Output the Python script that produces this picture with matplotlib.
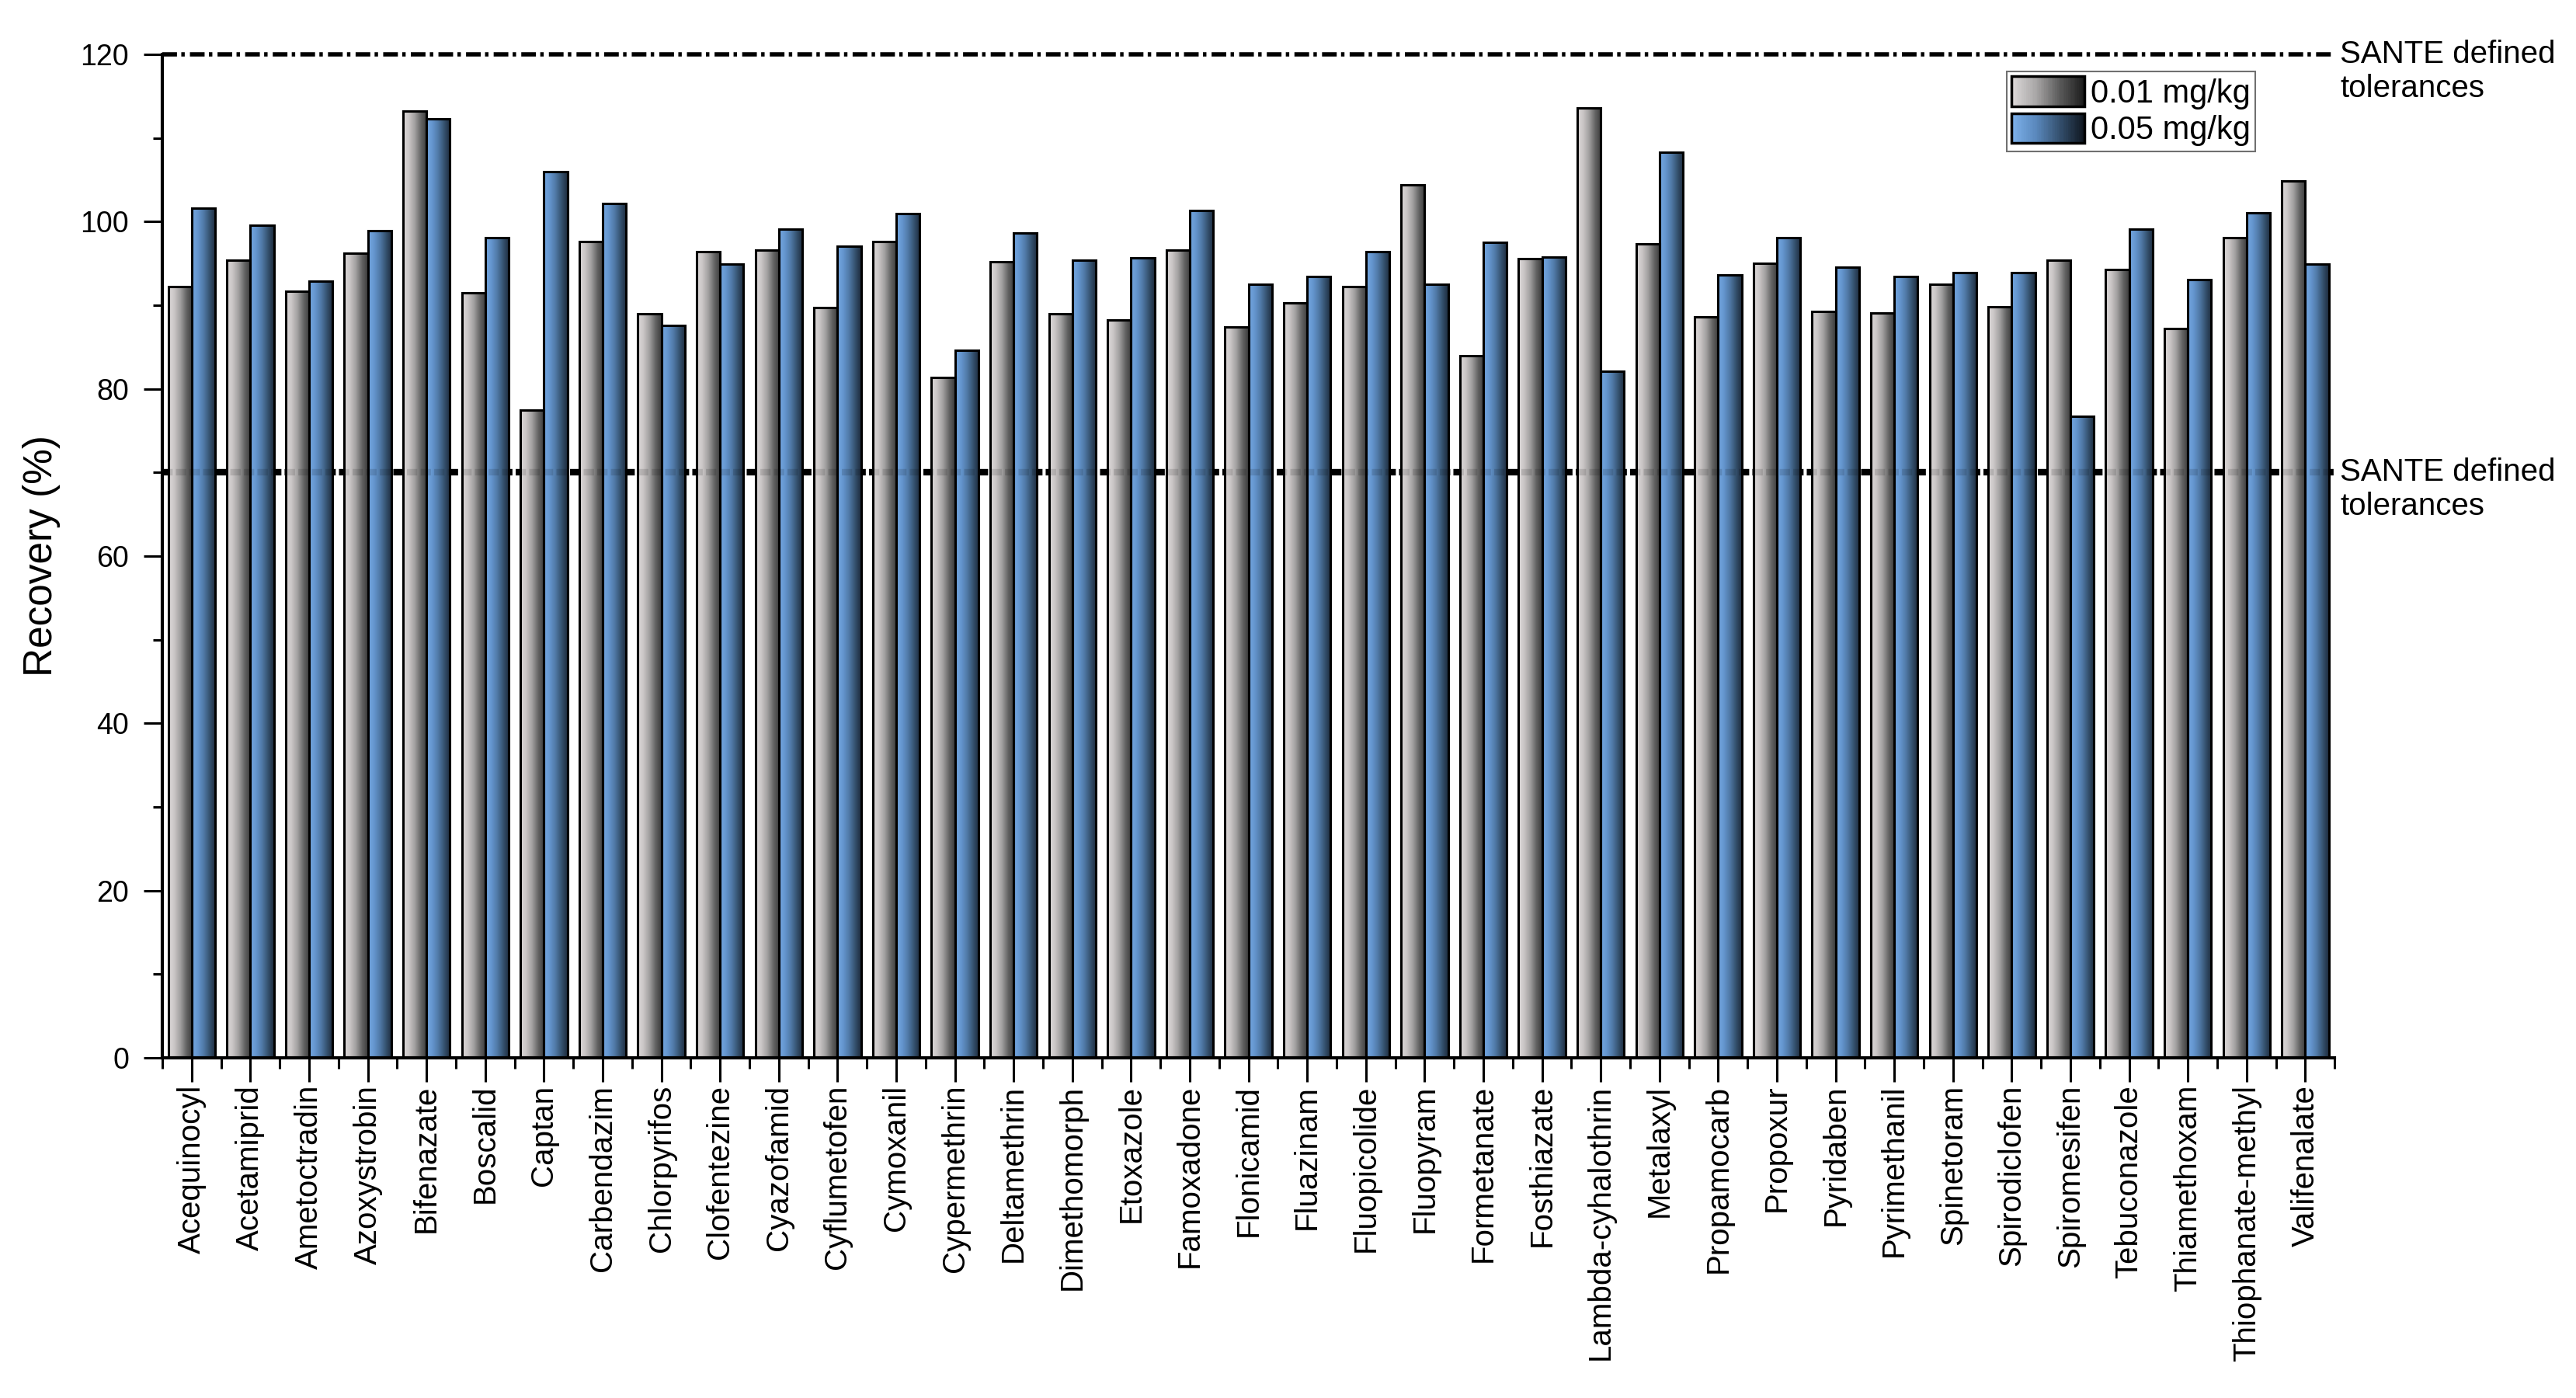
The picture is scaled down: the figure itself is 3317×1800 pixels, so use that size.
import numpy as np
import matplotlib
matplotlib.use("Agg")
from matplotlib import pyplot as plt
from matplotlib.colors import LinearSegmentedColormap
from matplotlib.patches import Rectangle
from matplotlib.legend_handler import HandlerBase
from matplotlib.ticker import MultipleLocator

plt.rcParams['font.family'] = ['Liberation Sans', 'DejaVu Sans']

pesticides = ['Acequinocyl', 'Acetamiprid', 'Ametoctradin', 'Azoxystrobin', 'Bifenazate',
              'Boscalid', 'Captan', 'Carbendazim', 'Chlorpyrifos', 'Clofentezine',
              'Cyazofamid', 'Cyflumetofen', 'Cymoxanil', 'Cypermethrin', 'Deltamethrin',
              'Dimethomorph', 'Etoxazole', 'Famoxadone', 'Flonicamid', 'Fluazinam',
              'Fluopicolide', 'Fluopyram', 'Formetanate', 'Fosthiazate', 'Lambda-cyhalothrin',
              'Metalaxyl', 'Propamocarb', 'Propoxur', 'Pyridaben', 'Pyrimethanil',
              'Spinetoram', 'Spirodiclofen', 'Spiromesifen', 'Tebuconazole', 'Thiamethoxam',
              'Thiophanate-methyl', 'Valifenalate']

rec_001 = [92.2, 95.4, 91.7, 96.2, 113.2, 91.5, 77.5, 97.6, 89.0, 96.4,
           96.6, 89.7, 97.6, 81.4, 95.2, 89.0, 88.2, 96.6, 87.4, 90.3,
           92.2, 104.4, 84.0, 95.6, 113.6, 97.3, 88.6, 95.0, 89.3, 89.1,
           92.5, 89.8, 95.4, 94.3, 87.2, 98.1, 104.9]
rec_005 = [101.6, 99.6, 92.9, 98.9, 112.3, 98.1, 106.0, 102.2, 87.6, 94.9,
           99.1, 97.1, 101.0, 84.6, 98.6, 95.4, 95.7, 101.3, 92.5, 93.4,
           96.4, 92.5, 97.5, 95.8, 82.1, 108.3, 93.6, 98.1, 94.6, 93.4,
           93.9, 93.9, 76.7, 99.1, 93.1, 101.1, 94.9]

series_labels = ['0.01 mg/kg', '0.05 mg/kg']
tol_upper = 120
tol_lower = 70
tol_text = 'SANTE defined\ntolerances'

# gradients left -> right like the original bars
gray_cmap = LinearSegmentedColormap.from_list(
    'g', ['#dedada', '#c8c4c4', '#a09e9e', '#646464', '#3c3c3c'])
blue_cmap = LinearSegmentedColormap.from_list(
    'b', ['#74a8e2', '#6495ce', '#5079a6', '#35526f', '#1e2c3e'])
gray_leg = LinearSegmentedColormap.from_list('gl', ['#dcd8d8', '#a8a6a6', '#5a5a5a', '#1e1e1e'])
blue_leg = LinearSegmentedColormap.from_list('bl', ['#7cb0ea', '#5a88bc', '#34506e', '#101822'])


class GradHandler(HandlerBase):
    def __init__(self, cmap):
        super().__init__()
        self.cmap = cmap

    def create_artists(self, legend, orig_handle, xdescent, ydescent,
                       width, height, fontsize, trans):
        arts = []
        n = 40
        for k in range(n):
            arts.append(Rectangle((-xdescent + k * width / n, -ydescent), width / n * 1.05, height,
                                  facecolor=self.cmap(k / (n - 1)), edgecolor='none',
                                  transform=trans))
        arts.append(Rectangle((-xdescent, -ydescent), width, height, fill=False,
                              edgecolor='black', lw=2.5, transform=trans))
        return arts


fig = plt.figure(figsize=(33.17, 18), dpi=100)
ax = fig.add_axes([0.063, 0.2433, 0.8433, 0.7178])

x = np.arange(len(pesticides))
w = 0.40
bars1 = ax.bar(x - w / 2, rec_001, w, facecolor='none', edgecolor='black', lw=2.2, zorder=3)
bars2 = ax.bar(x + w / 2, rec_005, w, facecolor='none', edgecolor='black', lw=2.2, zorder=3)

grad = np.linspace(0, 1, 64).reshape(1, -1)
for cont, cmap in [(bars1, gray_cmap), (bars2, blue_cmap)]:
    for r in cont.patches:
        x0 = r.get_x()
        ax.imshow(grad, cmap=cmap, extent=[x0, x0 + r.get_width(), 0, r.get_height()],
                  aspect='auto', interpolation='bilinear', zorder=2)

ax.set_xlim(-0.5, len(pesticides) - 0.5)
ax.set_ylim(0, 120)

# tolerance lines
ax.axhline(tol_upper, color='black', lw=4, dashes=(3.4, 1.0, 0.8, 1.2), clip_on=False, zorder=1)
ax.axhline(tol_lower, color='black', lw=6, dashes=(1.6, 0.5), zorder=1)
ax.axhline(tol_lower, color='black', lw=6, dashes=(1.6, 0.5), alpha=0.13, zorder=4)

ax.annotate(tol_text, xy=(1.0, tol_upper), xycoords=('axes fraction', 'data'),
            xytext=(5, 14), textcoords='offset points', ha='left', va='top', fontsize=29,
            annotation_clip=False)
ax.annotate(tol_text, xy=(1.0, tol_lower), xycoords=('axes fraction', 'data'),
            xytext=(5, 14), textcoords='offset points', ha='left', va='top', fontsize=29,
            annotation_clip=False)

# axes style
for s in ['top', 'right']:
    ax.spines[s].set_visible(False)
for s in ['left', 'bottom']:
    ax.spines[s].set_linewidth(3)
    ax.spines[s].set_zorder(5)

ax.set_xticks(x)
ax.set_xticklabels(pesticides, rotation=90, fontsize=29)
ax.xaxis.set_minor_locator(MultipleLocator(1, offset=0.5))
ax.yaxis.set_major_locator(MultipleLocator(20))
ax.yaxis.set_minor_locator(MultipleLocator(10))
ax.tick_params(axis='x', which='major', length=22, width=2.2, direction='out', pad=3)
ax.tick_params(axis='x', which='minor', length=10, width=2.2, direction='out')
ax.tick_params(axis='y', which='major', length=17, width=2.2, direction='out', pad=14, labelsize=27)
ax.tick_params(axis='y', which='minor', length=9, width=2.2, direction='out')

ax.set_ylabel('Recovery (%)', fontsize=37)
ax.yaxis.set_label_coords(-0.047, 0.5)

leg_handles = [Rectangle((0, 0), 1, 1), Rectangle((0, 0), 1, 1)]
leg = ax.legend(leg_handles, series_labels,
                handler_map={leg_handles[0]: GradHandler(gray_leg),
                             leg_handles[1]: GradHandler(blue_leg)},
                loc='upper left', bbox_to_anchor=(0.849, 0.983), fontsize=30,
                handlelength=2.25, handleheight=1.05, labelspacing=0.12,
                handletextpad=0.2, borderpad=0.15, borderaxespad=0,
                fancybox=False, framealpha=1, edgecolor='#707070')
leg.get_frame().set_linewidth(1.5)
leg.set_zorder(6)

fig.savefig('out.png', dpi=100)
